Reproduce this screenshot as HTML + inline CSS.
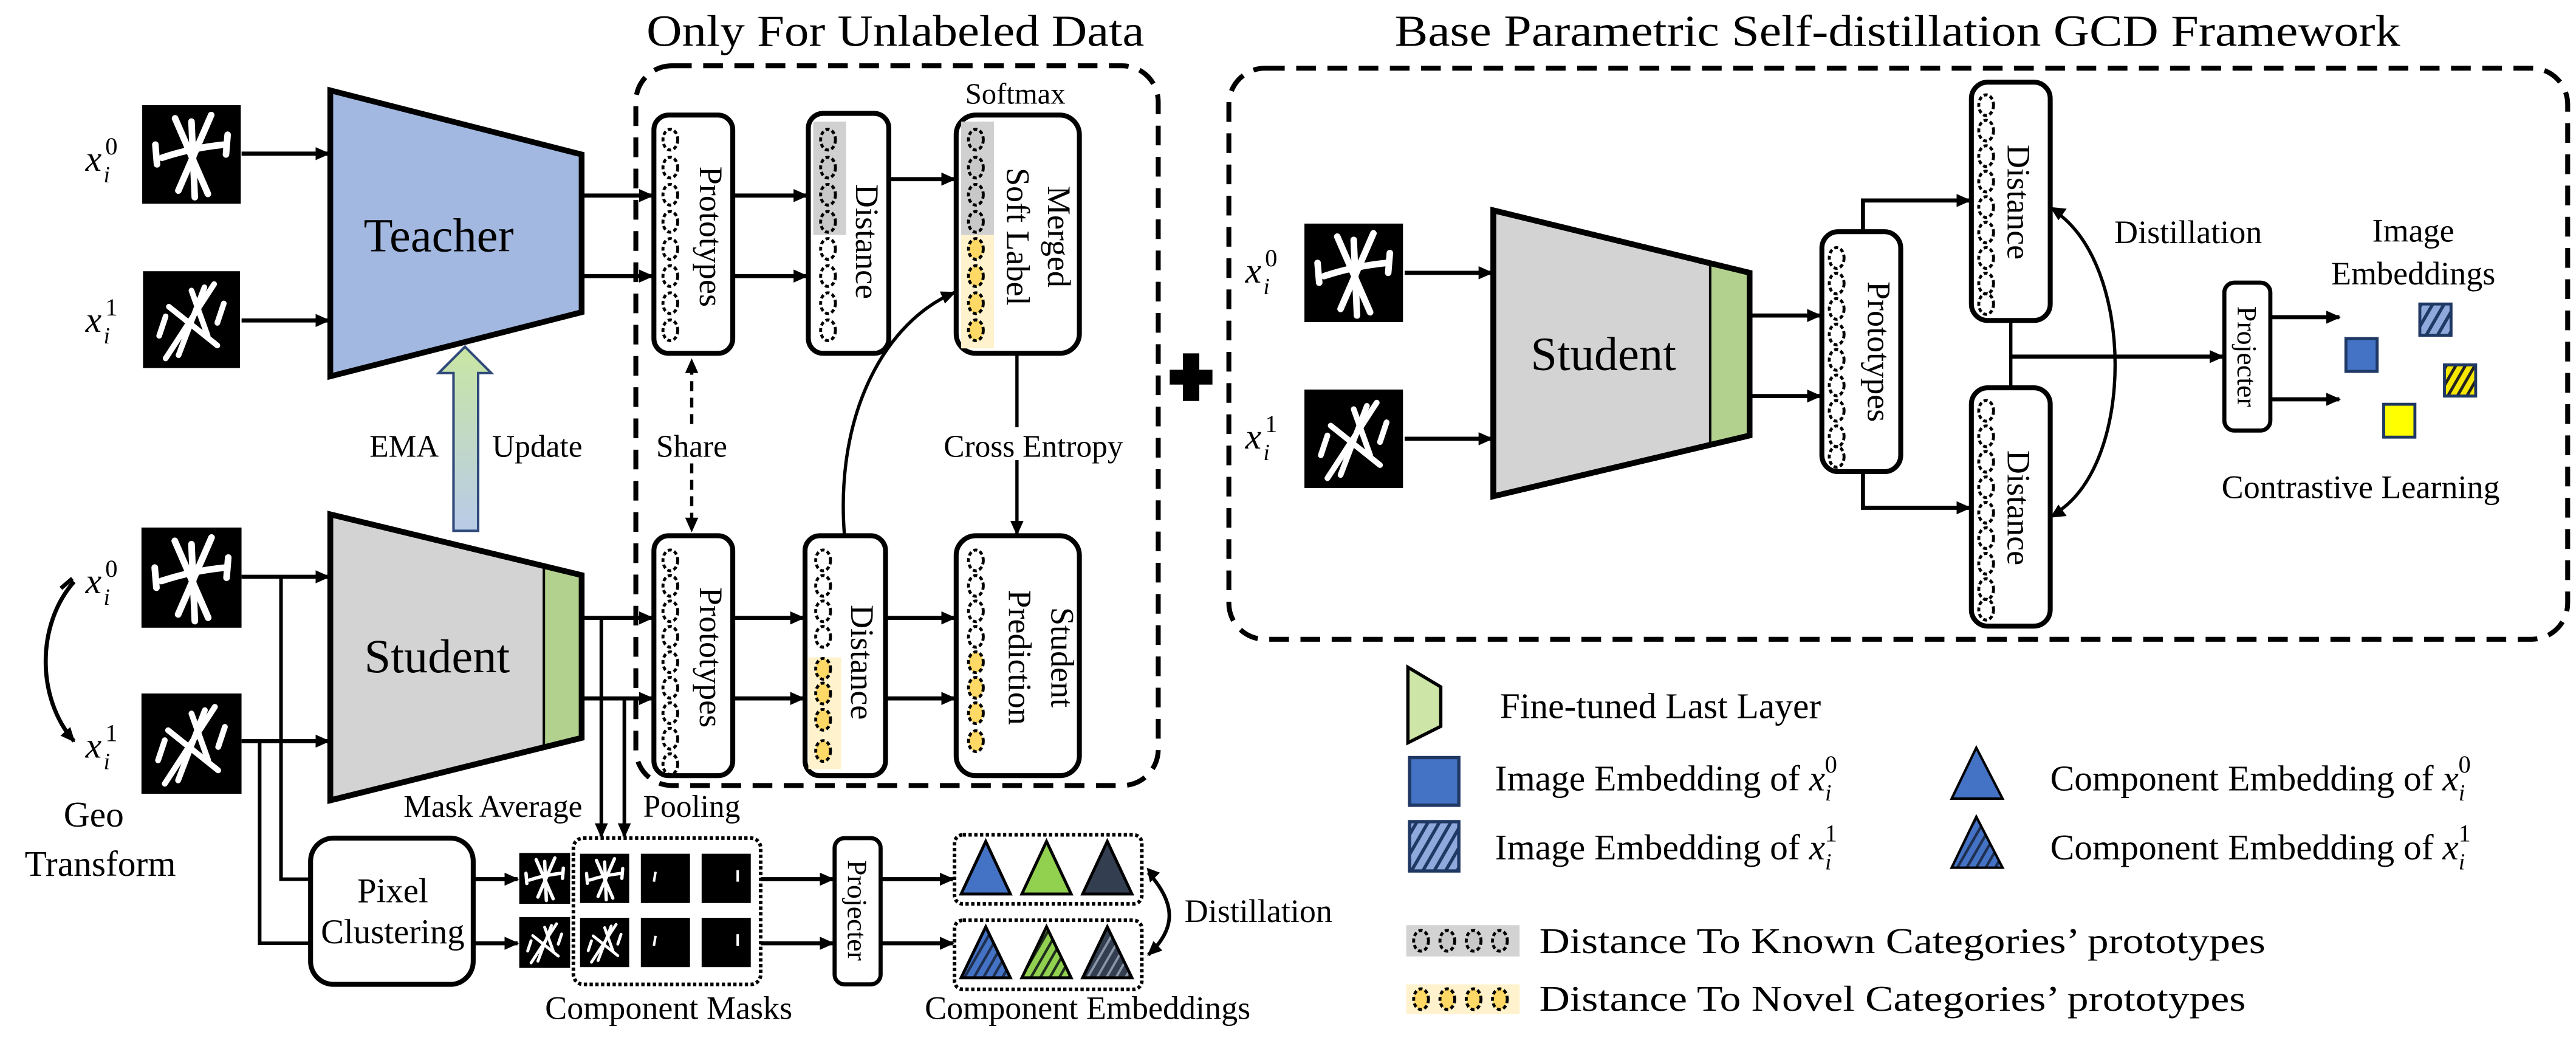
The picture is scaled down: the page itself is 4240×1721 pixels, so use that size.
<!DOCTYPE html>
<html><head><meta charset="utf-8"><style>html,body{margin:0;padding:0;background:#fff}svg{display:block}svg text,svg tspan{font-family:"Liberation Serif","Times New Roman",serif !important}</style></head>
<body>
<svg xmlns="http://www.w3.org/2000/svg" width="4240" height="1721" viewBox="0 0 1568 636.5" font-family="Liberation Serif, serif">
<defs>
<marker id="ar" markerWidth="10" markerHeight="10" refX="8" refY="5" orient="auto" markerUnits="userSpaceOnUse"><path d="M0,1 L9,5 L0,9 z" fill="#000"/></marker>
<linearGradient id="ema" x1="0" y1="0" x2="0" y2="1"><stop offset="0" stop-color="#c9e6a3"/><stop offset="1" stop-color="#b8cbe8"/></linearGradient>
<pattern id="hb" width="6" height="6" patternUnits="userSpaceOnUse" patternTransform="rotate(30)"><rect width="6" height="6" fill="#8fa9dc"/><rect width="2" height="6" fill="#1f3864"/></pattern>
<pattern id="hb2" width="5" height="5" patternUnits="userSpaceOnUse" patternTransform="rotate(30)"><rect width="5" height="5" fill="#4472c4"/><rect width="1.6" height="5" fill="#1f2f4f"/></pattern>
<pattern id="hg" width="5" height="5" patternUnits="userSpaceOnUse" patternTransform="rotate(30)"><rect width="5" height="5" fill="#92d050"/><rect width="1.6" height="5" fill="#1f2f1f"/></pattern>
<pattern id="hd" width="5" height="5" patternUnits="userSpaceOnUse" patternTransform="rotate(30)"><rect width="5" height="5" fill="#333f50"/><rect width="1.4" height="5" fill="#8a96a8"/></pattern>
<pattern id="hy" width="5" height="5" patternUnits="userSpaceOnUse" patternTransform="rotate(30)"><rect width="5" height="5" fill="#f5e700"/><rect width="1.8" height="5" fill="#222"/></pattern>
<symbol id="c0" viewBox="0 0 60 60"><rect width="60" height="60" fill="#000"/><g stroke="#fff" stroke-width="4" stroke-linecap="round" fill="none"><path d="M20,8 L40,54"/><path d="M42,6 L22,52"/><path d="M12,32 Q30,26 50,24"/><path d="M30,10 L32,56"/><path d="M8,24 L9,36"/><path d="M52,18 L51,30"/></g></symbol>
<symbol id="c1" viewBox="0 0 60 60"><rect width="60" height="60" fill="#000"/><g stroke="#fff" stroke-width="3.5" stroke-linecap="round" fill="none"><path d="M44,8 L14,54"/><path d="M38,10 L22,52"/><path d="M16,22 L46,46"/><path d="M30,12 L40,40"/><path d="M10,40 L14,28"/><path d="M50,20 L46,32"/></g></symbol>
<symbol id="m0" viewBox="0 0 60 60"><rect width="60" height="60" fill="#000"/><path d="M18,22 L16,34" stroke="#fff" stroke-width="3"/></symbol>
<symbol id="m1" viewBox="0 0 60 60"><rect width="60" height="60" fill="#000"/><path d="M44,20 L44,34" stroke="#fff" stroke-width="3"/></symbol>
<g id="e"><ellipse cx="0" cy="0" rx="4.5" ry="6.3" fill="none" stroke="#000" stroke-width="1.8" stroke-dasharray="2.4 1.6"/></g>
<g id="ey"><ellipse cx="0" cy="0" rx="4.5" ry="6.3" fill="#ffd966" stroke="#000" stroke-width="1.8" stroke-dasharray="2.4 1.6"/></g>
<g id="eg"><ellipse cx="0" cy="0" rx="4.5" ry="6.3" fill="#c8c8c8" stroke="#000" stroke-width="1.8" stroke-dasharray="2.4 1.6"/></g>
</defs>
<g style="font-family:'Liberation Serif',serif">

<text x="545" y="28" font-size="27" text-anchor="middle" textLength="303" lengthAdjust="spacingAndGlyphs">Only For Unlabeled Data</text>
<text x="1155" y="28" font-size="27" text-anchor="middle" textLength="612" lengthAdjust="spacingAndGlyphs">Base Parametric Self-distillation GCD Framework</text>

<rect x="387" y="40" width="318" height="438" rx="22" fill="none" stroke="#000" stroke-width="3" stroke-dasharray="12 7"/>
<rect x="748" y="41.5" width="815" height="347.5" rx="22" fill="none" stroke="#000" stroke-width="3" stroke-dasharray="12 7"/>
<path d="M720,215 h10 v10 h8 v9 h-8 v10 h-10 v-10 h-8 v-9 h8 z" fill="#000"/>

<g font-size="22" font-style="italic">
<text x="52" y="104">x</text><text x="63" y="111" font-size="14">i</text><text x="64" y="94" font-size="15" font-style="normal">0</text>
<text x="52" y="202">x</text><text x="63" y="209" font-size="14">i</text><text x="64" y="192" font-size="15" font-style="normal">1</text>
<text x="52" y="361">x</text><text x="63" y="368" font-size="14">i</text><text x="64" y="351" font-size="15" font-style="normal">0</text>
<text x="52" y="461">x</text><text x="63" y="468" font-size="14">i</text><text x="64" y="451" font-size="15" font-style="normal">1</text>
</g>
<use href="#c0" x="86" y="64" width="61" height="60"/>
<use href="#c1" x="86" y="165" width="61" height="59"/>
<use href="#c0" x="86" y="321" width="61" height="61"/>
<use href="#c1" x="86" y="422" width="61" height="61"/>

<g stroke="#000" stroke-width="2.5" fill="none">
<line x1="147" y1="93.5" x2="200" y2="93.5" marker-end="url(#ar)"/>
<line x1="147" y1="195" x2="200" y2="195" marker-end="url(#ar)"/>
<line x1="147" y1="351" x2="200" y2="351" marker-end="url(#ar)"/>
<line x1="147" y1="451" x2="200" y2="451" marker-end="url(#ar)"/>
</g>
<path d="M201,55 L354,94 L354,190 L201,229 z" fill="#a2b8e0" stroke="#000" stroke-width="3.5"/>
<text x="267" y="153" font-size="29" text-anchor="middle" font-family="Liberation Serif">Teacher</text>
<path d="M201,313 L354,350 L354,449 L201,487 z" fill="#d3d3d3" stroke="#000" stroke-width="3.5"/>
<path d="M331,344.5 L354,350 L354,449 L331,454.5 z" fill="#b3d18e" stroke="#000" stroke-width="1.5"/>
<path d="M201,313 L354,350 L354,449 L201,487 z" fill="none" stroke="#000" stroke-width="3.5"/>
<text x="266" y="409" font-size="29" text-anchor="middle" font-family="Liberation Serif">Student</text>

<path d="M276,323 L276,227 L267,227 L283,211 L299,227 L291,227 L291,323 z" fill="url(#ema)" stroke="#2f4a7a" stroke-width="1.5"/>
<text x="246" y="278" font-size="19" text-anchor="middle">EMA</text>
<text x="327" y="278" font-size="19" text-anchor="middle">Update</text>

<path d="M45,354 C22,380 22,425 45,451" fill="none" stroke="#000" stroke-width="2.5" marker-end="url(#ar)"/>
<path d="M44,352 l-7,6" stroke="#000" stroke-width="2.5"/>
<text x="57" y="503" font-size="22" text-anchor="middle">Geo</text>
<text x="61" y="533" font-size="22" text-anchor="middle">Transform</text>

<g stroke="#000" stroke-width="2.5" fill="none">
<line x1="354" y1="119" x2="397" y2="119" marker-end="url(#ar)"/>
<line x1="354" y1="168" x2="397" y2="168" marker-end="url(#ar)"/>
<line x1="446" y1="119" x2="491" y2="119" marker-end="url(#ar)"/>
<line x1="446" y1="168" x2="491" y2="168" marker-end="url(#ar)"/>
<line x1="541" y1="109" x2="581" y2="109" marker-end="url(#ar)"/>
<line x1="354" y1="376" x2="397" y2="376" marker-end="url(#ar)"/>
<line x1="354" y1="425" x2="397" y2="425" marker-end="url(#ar)"/>
<line x1="446" y1="376" x2="489" y2="376" marker-end="url(#ar)"/>
<line x1="446" y1="425" x2="489" y2="425" marker-end="url(#ar)"/>
<line x1="539" y1="376" x2="581" y2="376" marker-end="url(#ar)"/>
<line x1="539" y1="425" x2="581" y2="425" marker-end="url(#ar)"/>
<line x1="619" y1="215" x2="619" y2="325" stroke-width="2" marker-end="url(#ar)"/>
<path d="M514,326 C508,250 540,195 581,178" stroke-width="2" marker-end="url(#ar)"/>
<line x1="421" y1="222" x2="421" y2="319" stroke-width="2" stroke-dasharray="6 4"/>
</g>
<path d="M421,218 l-4,9 h8 z M421,324 l-4,-9 h8 z" fill="#000"/>
<rect x="400" y="260" width="42" height="20" fill="#fff"/>
<text x="421" y="278" font-size="19" text-anchor="middle">Share</text>
<rect x="575" y="260" width="100" height="20" fill="#fff"/>
<text x="629" y="278" font-size="19" text-anchor="middle">Cross Entropy</text>
<text x="618" y="63" font-size="18" text-anchor="middle">Softmax</text>

<rect x="398" y="70" width="48" height="145" rx="9" fill="#fff" stroke="#000" stroke-width="3"/>
<rect x="492" y="69" width="49" height="146" rx="9" fill="#fff" stroke="#000" stroke-width="3"/>
<rect x="582" y="70" width="75" height="145" rx="12" fill="#fff" stroke="#000" stroke-width="3"/>
<rect x="495" y="74" width="20" height="69" fill="#d0d0d0"/>
<rect x="585" y="74" width="20" height="69" fill="#d0d0d0"/>
<rect x="585" y="143" width="20" height="69" fill="#fff2cc"/>
<g>
<use href="#e" x="408" y="85"/><use href="#e" x="408" y="102"/><use href="#e" x="408" y="118.5"/><use href="#e" x="408" y="135"/><use href="#e" x="408" y="151.5"/><use href="#e" x="408" y="168"/><use href="#e" x="408" y="184.5"/><use href="#e" x="408" y="201"/>
<use href="#eg" x="504" y="85"/><use href="#eg" x="504" y="102"/><use href="#eg" x="504" y="118.5"/><use href="#eg" x="504" y="135"/><use href="#e" x="504" y="151.5"/><use href="#e" x="504" y="168"/><use href="#e" x="504" y="184.5"/><use href="#e" x="504" y="201"/>
<use href="#eg" x="594" y="85"/><use href="#eg" x="594" y="102"/><use href="#eg" x="594" y="118.5"/><use href="#eg" x="594" y="135"/><use href="#ey" x="594" y="151.5"/><use href="#ey" x="594" y="168"/><use href="#ey" x="594" y="184.5"/><use href="#ey" x="594" y="201"/>
</g>
<g font-size="20" text-anchor="middle">
<text transform="translate(426,144) rotate(90)">Prototypes</text>
<text transform="translate(521,147) rotate(90)">Distance</text>
<text transform="translate(638,144) rotate(90)">Merged</text>
<text transform="translate(613,144) rotate(90)">Soft Label</text>
</g>

<rect x="398" y="326" width="48" height="146" rx="9" fill="#fff" stroke="#000" stroke-width="3"/>
<rect x="490" y="326" width="49" height="146" rx="9" fill="#fff" stroke="#000" stroke-width="3"/>
<rect x="582" y="326" width="75" height="146" rx="12" fill="#fff" stroke="#000" stroke-width="3"/>
<rect x="492" y="400" width="20" height="68" fill="#fff2cc"/>
<g>
<use href="#e" x="408" y="341"/><use href="#e" x="408" y="356.5"/><use href="#e" x="408" y="372"/><use href="#e" x="408" y="387.5"/><use href="#e" x="408" y="403"/><use href="#e" x="408" y="418.5"/><use href="#e" x="408" y="434"/><use href="#e" x="408" y="449.5"/><use href="#e" x="408" y="465"/>
<use href="#e" x="501" y="341"/><use href="#e" x="501" y="356.5"/><use href="#e" x="501" y="372"/><use href="#e" x="501" y="387.5"/><use href="#ey" x="501" y="407"/><use href="#ey" x="501" y="422"/><use href="#ey" x="501" y="438"/><use href="#ey" x="501" y="457"/>
<use href="#e" x="594" y="341"/><use href="#e" x="594" y="356.5"/><use href="#e" x="594" y="372"/><use href="#e" x="594" y="387.5"/><use href="#ey" x="594" y="403"/><use href="#ey" x="594" y="418.5"/><use href="#ey" x="594" y="434"/><use href="#ey" x="594" y="451"/>
</g>
<g font-size="20" text-anchor="middle">
<text transform="translate(426,400) rotate(90)">Prototypes</text>
<text transform="translate(518,403) rotate(90)">Distance</text>
<text transform="translate(640,400) rotate(90)">Student</text>
<text transform="translate(614,400) rotate(90)">Prediction</text>
</g>

<g stroke="#000" stroke-width="2.2" fill="none">
<polyline points="171,351 171,535 190,535"/>
<polyline points="158,451 158,574 190,574"/>
<line x1="366" y1="376" x2="366" y2="509" marker-end="url(#ar)"/>
<line x1="380" y1="425" x2="380" y2="509" marker-end="url(#ar)"/>
<line x1="288" y1="535" x2="315" y2="535" marker-end="url(#ar)" stroke-width="2.5"/>
<line x1="288" y1="574" x2="315" y2="574" marker-end="url(#ar)" stroke-width="2.5"/>
<line x1="463" y1="535" x2="507" y2="535" marker-end="url(#ar)" stroke-width="2.5"/>
<line x1="463" y1="574" x2="507" y2="574" marker-end="url(#ar)" stroke-width="2.5"/>
<line x1="536" y1="535" x2="580" y2="535" marker-end="url(#ar)" stroke-width="2.5"/>
<line x1="536" y1="574" x2="580" y2="574" marker-end="url(#ar)" stroke-width="2.5"/>
<path d="M699,531 C716,550 716,565 699,581" marker-end="url(#ar)"/>
</g>
<path d="M698,528 l2,9 l6,-6 z" fill="#000"/>
<text x="300" y="497" font-size="19" text-anchor="middle">Mask Average</text>
<text x="421" y="497" font-size="19" text-anchor="middle">Pooling</text>
<rect x="189" y="510" width="99" height="89" rx="14" fill="#fff" stroke="#000" stroke-width="3"/>
<text x="239" y="549" font-size="21" text-anchor="middle">Pixel</text>
<text x="239" y="574" font-size="21" text-anchor="middle">Clustering</text>
<use href="#c0" x="316" y="519" width="31" height="31"/>
<use href="#c1" x="316" y="558" width="31" height="31"/>
<rect x="349" y="510" width="114" height="89" rx="6" fill="none" stroke="#000" stroke-width="2.2" stroke-dasharray="2 1.5"/>
<use href="#c0" x="353" y="519" width="30" height="31"/>
<use href="#m0" x="390" y="519" width="30" height="31"/>
<use href="#m1" x="427" y="519" width="30" height="31"/>
<use href="#c1" x="353" y="558" width="30" height="31"/>
<use href="#m0" x="390" y="558" width="30" height="31"/>
<use href="#m1" x="427" y="558" width="30" height="31"/>
<text x="407" y="620" font-size="20" text-anchor="middle">Component Masks</text>
<rect x="508" y="510" width="28" height="89" rx="6" fill="#fff" stroke="#000" stroke-width="2.5"/>
<text transform="translate(516,554) rotate(90)" font-size="17" text-anchor="middle">Projecter</text>
<rect x="581" y="508" width="114" height="42" rx="5" fill="none" stroke="#000" stroke-width="2.2" stroke-dasharray="2 1.5"/>
<rect x="581" y="560" width="114" height="42" rx="5" fill="none" stroke="#000" stroke-width="2.2" stroke-dasharray="2 1.5"/>
<g stroke="#000" stroke-width="1.8">
<path d="M600,512 L615,544 L585,544 z" fill="#4472c4"/>
<path d="M637,512 L652,544 L622,544 z" fill="#92d050"/>
<path d="M674,512 L689,544 L659,544 z" fill="#333f50"/>
<path d="M600,564 L615,595 L585,595 z" fill="url(#hb2)"/>
<path d="M637,564 L652,595 L622,595 z" fill="url(#hg)"/>
<path d="M674,564 L689,595 L659,595 z" fill="url(#hd)"/>
</g>
<text x="721" y="561" font-size="20">Distillation</text>
<text x="662" y="620" font-size="20" text-anchor="middle">Component Embeddings</text>

<g font-size="22" font-style="italic">
<text x="758" y="172">x</text><text x="769" y="179" font-size="14">i</text><text x="770" y="162" font-size="15" font-style="normal">0</text>
<text x="758" y="273">x</text><text x="769" y="280" font-size="14">i</text><text x="770" y="263" font-size="15" font-style="normal">1</text>
</g>
<use href="#c0" x="793" y="136" width="62" height="60"/>
<use href="#c1" x="793" y="237" width="62" height="60"/>
<g stroke="#000" stroke-width="2.5" fill="none">
<line x1="855" y1="166" x2="908" y2="166" marker-end="url(#ar)"/>
<line x1="855" y1="267" x2="908" y2="267" marker-end="url(#ar)"/>
<line x1="1065" y1="192" x2="1108" y2="192" marker-end="url(#ar)"/>
<line x1="1065" y1="241" x2="1108" y2="241" marker-end="url(#ar)"/>
<polyline points="1134,141 1134,122 1199,122" marker-end="url(#ar)"/>
<polyline points="1134,287 1134,309 1199,309" marker-end="url(#ar)"/>
<line x1="1224" y1="195" x2="1224" y2="236" stroke-width="2"/>
<line x1="1224" y1="217" x2="1353" y2="217" marker-end="url(#ar)"/>
<line x1="1382" y1="193" x2="1424" y2="193" marker-end="url(#ar)"/>
<line x1="1382" y1="243" x2="1424" y2="243" marker-end="url(#ar)"/>
<path d="M1250,128 C1300,160 1300,285 1250,313" stroke-width="2"/>
</g>
<path d="M1248,126 l10,1 l-5,7 z M1248,315 l10,-1 l-5,-7 z" fill="#000"/>
<path d="M909,128 L1065,166 L1065,265 L909,302 z" fill="#d3d3d3" stroke="#000" stroke-width="3.5"/>
<path d="M1041,160 L1065,166 L1065,265 L1041,271 z" fill="#b3d18e" stroke="#000" stroke-width="1.5"/>
<path d="M909,128 L1065,166 L1065,265 L909,302 z" fill="none" stroke="#000" stroke-width="3.5"/>
<text x="976" y="225" font-size="29" text-anchor="middle" font-family="Liberation Serif">Student</text>
<rect x="1109" y="141" width="48" height="146" rx="10" fill="#fff" stroke="#000" stroke-width="3"/>
<rect x="1200" y="50" width="48" height="145" rx="10" fill="#fff" stroke="#000" stroke-width="3"/>
<rect x="1200" y="236" width="48" height="145" rx="10" fill="#fff" stroke="#000" stroke-width="3"/>
<g>
<use href="#e" x="1118" y="157"/><use href="#e" x="1118" y="172.5"/><use href="#e" x="1118" y="188"/><use href="#e" x="1118" y="203.5"/><use href="#e" x="1118" y="219"/><use href="#e" x="1118" y="234.5"/><use href="#e" x="1118" y="250"/><use href="#e" x="1118" y="265.5"/><use href="#e" x="1118" y="278"/>
<use href="#e" x="1209" y="64"/><use href="#e" x="1209" y="79.5"/><use href="#e" x="1209" y="95"/><use href="#e" x="1209" y="110.5"/><use href="#e" x="1209" y="126"/><use href="#e" x="1209" y="141.5"/><use href="#e" x="1209" y="157"/><use href="#e" x="1209" y="172.5"/><use href="#e" x="1209" y="185"/>
<use href="#e" x="1209" y="250"/><use href="#e" x="1209" y="265.5"/><use href="#e" x="1209" y="281"/><use href="#e" x="1209" y="296.5"/><use href="#e" x="1209" y="312"/><use href="#e" x="1209" y="327.5"/><use href="#e" x="1209" y="343"/><use href="#e" x="1209" y="358.5"/><use href="#e" x="1209" y="371"/>
</g>
<g font-size="20" text-anchor="middle">
<text transform="translate(1137,214) rotate(90)">Prototypes</text>
<text transform="translate(1222,123) rotate(90)">Distance</text>
<text transform="translate(1222,309) rotate(90)">Distance</text>
</g>
<rect x="1354" y="172" width="28" height="90" rx="6" fill="#fff" stroke="#000" stroke-width="2.5"/>
<text transform="translate(1362,217) rotate(90)" font-size="17" text-anchor="middle">Projecter</text>
<text x="1332" y="148" font-size="20" text-anchor="middle">Distillation</text>
<text x="1469" y="147" font-size="20" text-anchor="middle">Image</text>
<text x="1469" y="173" font-size="20" text-anchor="middle">Embeddings</text>
<text x="1437" y="303" font-size="20" text-anchor="middle">Contrastive Learning</text>
<rect x="1428" y="206" width="19" height="20" fill="#4472c4" stroke="#1f3864" stroke-width="1.8"/>
<rect x="1473" y="185" width="19" height="19" fill="url(#hb)" stroke="#1f3864" stroke-width="1.8"/>
<rect x="1488" y="222" width="19" height="19" fill="url(#hy)" stroke="#1f3864" stroke-width="1.8"/>
<rect x="1451" y="246" width="19" height="20" fill="#ffff00" stroke="#1f3864" stroke-width="1.8"/>

<path d="M857,406 L877,418 L877,442 L857,452 z" fill="#cde6a8" stroke="#000" stroke-width="2"/>
<text x="913" y="437" font-size="22">Fine-tuned Last Layer</text>
<rect x="858" y="461" width="30" height="29" fill="#4472c4" stroke="#1f3864" stroke-width="2"/>
<rect x="858" y="500" width="30" height="30" fill="url(#hb)" stroke="#1f3864" stroke-width="2"/>
<path d="M1203,455 L1219,486 L1188,486 z" fill="#4472c4" stroke="#000" stroke-width="1.5"/>
<path d="M1203,497 L1219,528 L1188,528 z" fill="url(#hb2)" stroke="#000" stroke-width="1.5"/>
<g font-size="22">
<text x="910" y="481">Image Embedding of <tspan font-style="italic">x</tspan><tspan font-size="14" font-style="italic" dy="6">i</tspan><tspan font-size="15" dx="-4" dy="-17">0</tspan></text>
<text x="910" y="523">Image Embedding of <tspan font-style="italic">x</tspan><tspan font-size="14" font-style="italic" dy="6">i</tspan><tspan font-size="15" dx="-4" dy="-17">1</tspan></text>
<text x="1248" y="481">Component Embedding of <tspan font-style="italic">x</tspan><tspan font-size="14" font-style="italic" dy="6">i</tspan><tspan font-size="15" dx="-4" dy="-17">0</tspan></text>
<text x="1248" y="523">Component Embedding of <tspan font-style="italic">x</tspan><tspan font-size="14" font-style="italic" dy="6">i</tspan><tspan font-size="15" dx="-4" dy="-17">1</tspan></text>
</g>
<rect x="856" y="563" width="69" height="19" fill="#d3d3d3"/>
<rect x="856" y="599" width="69" height="18" fill="#fff2cc"/>
<g>
<use href="#eg" x="865" y="572.5"/><use href="#eg" x="881" y="572.5"/><use href="#eg" x="897" y="572.5"/><use href="#eg" x="913" y="572.5"/>
<use href="#ey" x="865" y="608"/><use href="#ey" x="881" y="608"/><use href="#ey" x="897" y="608"/><use href="#ey" x="913" y="608"/>
</g>
<text x="937" y="580" font-size="22" textLength="442" lengthAdjust="spacingAndGlyphs">Distance To Known Categories’ prototypes</text>
<text x="937" y="615" font-size="22" textLength="430" lengthAdjust="spacingAndGlyphs">Distance To Novel Categories’ prototypes</text>
</g>
</svg>
</body></html>
